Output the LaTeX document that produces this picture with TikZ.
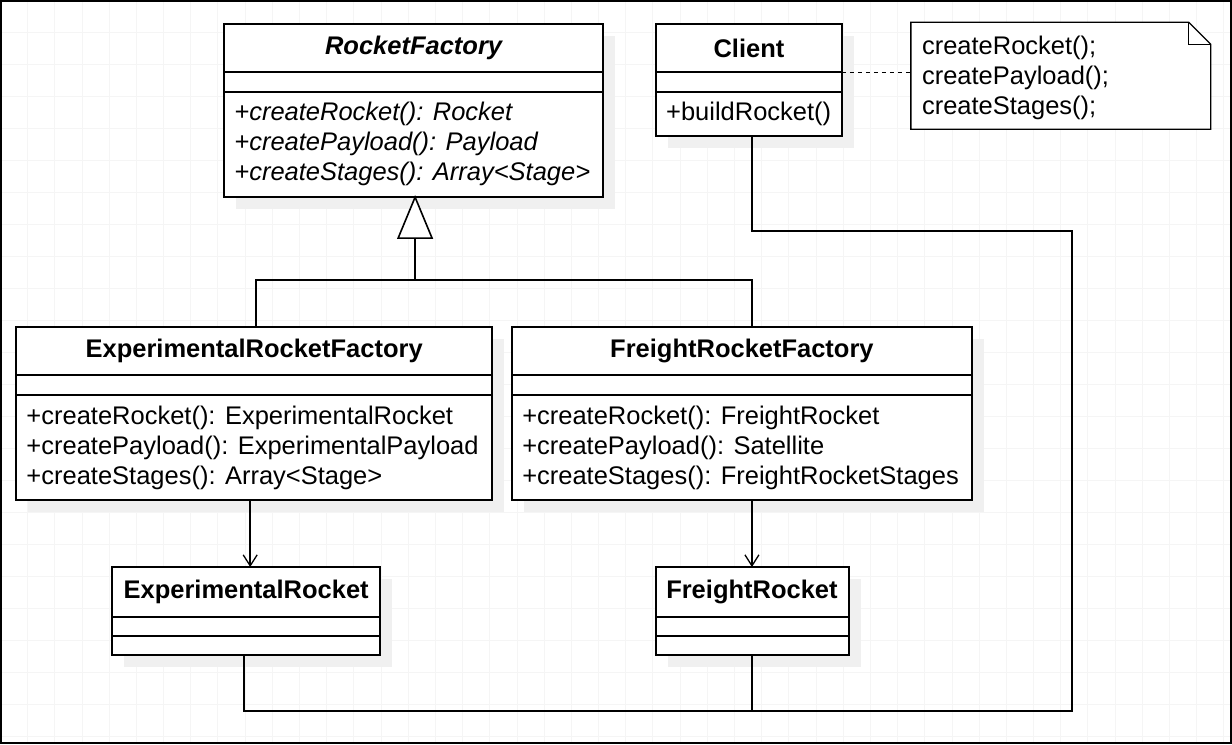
\documentclass[tikz,border=0pt]{standalone}
\usepackage{fontspec}
\setmainfont{Liberation Sans}
\usetikzlibrary{arrows.meta}
\begin{document}
\begin{tikzpicture}[x=1pt,y=-1pt,
  box/.style={draw=black,line width=1.6pt,fill=white},
  shadow/.style={fill=black!6,draw=none},
  txt/.style={font=\fontsize{25.5}{28}\selectfont,anchor=west,inner sep=0pt},
  ttl/.style={font=\bfseries\fontsize{25.5}{28}\selectfont,inner sep=0pt},
  ln/.style={line width=1.6pt},
  dep/.style={ln,-{Straight Barb[length=11pt,width=14pt,line width=1.3pt]}}]
\fill[white] (0,0) rectangle (1232,744);
\draw[black!4,line width=0.6pt] foreach \i in {0,...,45}{(\i*27.2,0)--(\i*27.2,744)} foreach \j in {0,...,23}{(0,\j*32)--(1232,\j*32)};
% shadows
\foreach \a/\b/\c/\d in {224/24/603/197,656/24/842/136,16/327/492/500,512/327/972/500,112/567/380/655,656/567/849/655}
  \fill[shadow] (\a+12,\b+12) rectangle (\c+12,\d+12);
% class boxes
\newcommand{\umlclass}[7]{%
  \draw[box] (#1,#2) rectangle (#3,#4);
  \draw[ln] (#1,#2+48) -- (#3,#2+48);
  \draw[ln] (#1,#2+68) -- (#3,#2+68);
  \node[ttl] (#5) at ({(#1+#3)/2},#2+24) {#6};
  #7}
\umlclass{224}{24}{603}{197}{rf}{\itshape RocketFactory}{%
  \node[txt] (rf1) at (234,114) {\itshape +createRocket(): Rocket};
  \node[txt] (rf2) at (234,144) {\itshape +createPayload(): Payload};
  \node[txt] (rf3) at (234,174) {\itshape +createStages(): Array<Stage>};}
\umlclass{656}{24}{842}{136}{cl}{Client}{%
  \node[txt] (cl1) at (666,114) {+buildRocket()};}
\umlclass{16}{327}{492}{500}{erf}{ExperimentalRocketFactory}{%
  \node[txt] (erf1) at (26,418) {+createRocket(): ExperimentalRocket};
  \node[txt] (erf2) at (26,448) {+createPayload(): ExperimentalPayload};
  \node[txt] (erf3) at (26,478) {+createStages(): Array<Stage>};}
\umlclass{512}{327}{972}{500}{frf}{FreightRocketFactory}{%
  \node[txt] (frf1) at (522,418) {+createRocket(): FreightRocket};
  \node[txt] (frf2) at (522,448) {+createPayload(): Satellite};
  \node[txt] (frf3) at (522,478) {+createStages(): FreightRocketStages};}
\draw[box] (112,567) rectangle (380,655);
\draw[ln] (112,617)--(380,617) (112,636)--(380,636);
\node[ttl] (er) at (246,592) {ExperimentalRocket};
\draw[box] (656,567) rectangle (849,655);
\draw[ln] (656,617)--(849,617) (656,636)--(849,636);
\node[ttl] (fr) at (752,592) {FreightRocket};
% note
\draw[box,line width=1.3pt] (911,22) -- (1189,22) -- (1211,44) -- (1211,129) -- (911,129) -- cycle;
\draw[line width=1.3pt] (1189,22) -- (1189,44) -- (1211,44);
\node[txt] (n1) at (922,48) {createRocket();};
\node[txt] (n2) at (922,78) {createPayload();};
\node[txt] (n3) at (922,108) {createStages();};
\coordinate (clr) at (842,72); \coordinate (nl) at (911,72);
\draw[line width=1.3pt,dash pattern=on 4pt off 4pt] (clr) -- (nl);
% inheritance
\coordinate (tip) at (415,197); \coordinate (tb) at (415,238);
\draw[ln,fill=white] (tip) -- (432,238) -- (398,238) -- cycle;
\coordinate (e1) at (256,327); \coordinate (f1) at (752,327);
\draw[ln] (tb) -- (415,280) -- (256,280) -- (e1);
\draw[ln] (415,280) -- (752,280) -- (f1);
% dependencies
\coordinate (ea) at (250,500); \coordinate (eb) at (250,567);
\coordinate (fa) at (752,500); \coordinate (fb) at (752,567);
\draw[dep] (ea) -- (eb);
\draw[dep] (fa) -- (fb);
% client association
\coordinate (cb) at (752,136); \coordinate (erb) at (244,655); \coordinate (frb) at (752,655);
\draw[ln] (cb) -- (752,231) -- (1072,231) -- (1072,711) -- (244,711) -- (erb);
\draw[ln] (frb) -- (752,711);
\draw[line width=1.6pt] (0.8,0.8) rectangle (1231.2,743.2);
\end{tikzpicture}
\end{document}
